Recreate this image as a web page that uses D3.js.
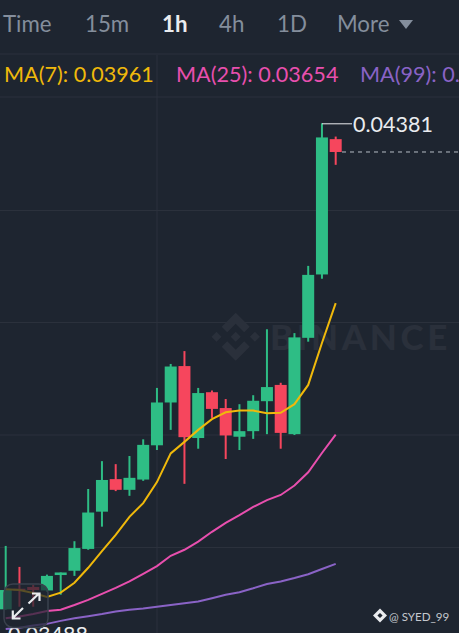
<!DOCTYPE html>
<html><head><meta charset="utf-8">
<script src="https://cdnjs.cloudflare.com/ajax/libs/d3/7.8.5/d3.min.js"></script>
<style>html,body{margin:0;padding:0;background:#1e2530;overflow:hidden}svg{display:block}text{font-family:Lato,sans-serif}</style>
</head><body><svg id="c" width="459" height="633"></svg>
<script>
const tabs = ["Time","15m","1h","4h","1D","More"];
const opens  = [.03246,.03294,.03298,.03290,.03326,.03336,.03387,.03474,.03550,.03525,.03549,.03629,.03729,.03814,.03646,.03753,.03716,.03649,.03662,.03732,.03770,.03655,.03880,.04028,.04344];
const closes = [.03291,.03290,.03291,.03324,.03332,.03389,.03472,.03548,.03525,.03553,.03630,.03729,.03813,.03648,.03751,.03714,.03652,.03662,.03733,.03765,.03658,.03881,.04027,.04348,.04314];
const highs  = [.03394,.03345,.03303,.03327,.03332,.03405,.03527,.03592,.03585,.03604,.03643,.03763,.03819,.03849,.03763,.03757,.03737,.03725,.03746,.03900,.03775,.03891,.04048,.04381,.04350];
const lows   = [.03245,.03252,.03252,.03287,.03280,.03324,.03385,.03439,.03522,.03511,.03546,.03618,.03665,.03539,.03621,.03693,.03597,.03618,.03644,.03655,.03621,.03653,.03871,.04018,.04284];
const ma7  = [.03293,.03291,.03284,.03275,.03285,.03308,.03343,.03382,.03420,.03462,.03494,.03543,.03610,.03637,.03665,.03690,.03706,.03710,.03710,.03704,.03705,.03725,.03770,.03868,.03961];
const ma25 = [.03225,.03229,.03235,.03242,.03245,.03256,.03268,.03282,.03296,.03311,.03329,.03347,.03371,.03385,.03404,.03427,.03448,.03466,.03485,.03501,.03513,.03535,.03566,.03611,.03654];
const ma99 = [.03200,.03203,.03208,.03212,.03219,.03225,.03230,.03235,.03241,.03245,.03248,.03252,.03256,.03260,.03264,.03272,.03280,.03286,.03295,.03305,.03311,.03319,.03328,.03340,.03352];
const lastPrice = .04314, highPrice = .04381;
const maLabels = ["MA(7): 0.03961","MA(25): 0.03654","MA(99): 0.03352"];

const GREEN="#2ebd85", RED="#f6465d", GRID="#2b313c";
const svg = d3.select("#c");
const y = d3.scaleLinear().domain([.04381,.03221]).range([123.3,620]);
const x = d3.scaleLinear().domain([0,24]).range([5.7,335.7]);
const idx = d3.range(opens.length);

// header
const tabX=[3,85,162,219,277,337];
svg.selectAll(".tab").data(tabs).join("text").attr("class","tab")
  .attr("x",(d,i)=>tabX[i]).attr("y",32).attr("font-size",22.3)
  .attr("font-weight",(d,i)=>i==2?700:400)
  .attr("fill",(d,i)=>i==2?"#eaecef":"#848e9c").text(d=>d);
svg.append("path").attr("d",d3.line()([[399,20],[413,20],[406,29]])+"Z").attr("fill","#848e9c");

// grid
svg.append("line").attr("x1",0).attr("x2",459).attr("y1",54).attr("y2",54).attr("stroke",GRID);
svg.append("line").attr("x1",0).attr("x2",459).attr("y1",97).attr("y2",97).attr("stroke",GRID);
svg.append("line").attr("x1",157).attr("x2",157).attr("y1",55).attr("y2",633).attr("stroke",GRID);
svg.selectAll(".g").data([210.5,322.5,435,547.5]).join("line")
  .attr("x1",0).attr("x2",459).attr("y1",d=>d).attr("y2",d=>d).attr("stroke",GRID);

// MA legend
const maColors=["#f0b90b","#e84fae","#8a63c6"], maX=[4,176,360];
svg.selectAll(".ma").data(maLabels).join("text").attr("class","ma")
  .attr("x",(d,i)=>maX[i]).attr("y",82).attr("font-size",21.6)
  .attr("fill",(d,i)=>maColors[i]).text(d=>d);

// watermark
const wm=svg.append("g").attr("fill","#2a303b");
const dia=(cx,cy,r)=>`M${cx-r},${cy}L${cx},${cy-r}L${cx+r},${cy}L${cx},${cy+r}Z`;
wm.append("path").attr("d",dia(235.7,336.7,5)+dia(216.5,336.7,5)+dia(254.9,336.7,5));
const chev=(s)=>`M235.7,${336.7+s*24}L${235.7-14},${336.7+s*10}L${235.7-8.5},${336.7+s*4.5}L235.7,${336.7+s*13}L${235.7+8.5},${336.7+s*4.5}L${235.7+14},${336.7+s*10}Z`;
wm.append("path").attr("d",chev(1)+chev(-1));
wm.append("text").attr("x",270).attr("y",350).attr("font-size",35).attr("font-weight",900).attr("letter-spacing",3.6).text("BINANCE");

// candles
const c=svg.selectAll(".c").data(idx).join("g").attr("class","c");
const col=i=>closes[i]>=opens[i]?GREEN:RED;
c.append("line").attr("x1",i=>x(i)).attr("x2",i=>x(i))
  .attr("y1",i=>y(highs[i])).attr("y2",i=>y(lows[i]))
  .attr("stroke",col).attr("stroke-width",2);
c.append("rect").attr("x",i=>x(i)-6).attr("width",12)
  .attr("y",i=>y(Math.max(opens[i],closes[i])))
  .attr("height",i=>Math.max(1.5,Math.abs(y(opens[i])-y(closes[i]))))
  .attr("fill",col);

// MA lines
const ln=d3.line().x((d,i)=>x(i)).y(d=>y(d));
[[ma99,"#8a63c6"],[ma25,"#e84fae"],[ma7,"#f0b90b"]].forEach(([s,k])=>{
  svg.append("path").attr("d",ln(s)).attr("fill","none").attr("stroke",k).attr("stroke-width",2);
});

// price annotations
svg.append("line").attr("x1",342).attr("x2",459).attr("y1",y(lastPrice)).attr("y2",y(lastPrice))
  .attr("stroke","#b7bdc6").attr("stroke-dasharray","4 4");
svg.append("line").attr("x1",x(23)).attr("x2",352).attr("y1",y(highPrice)+.5).attr("y2",y(highPrice)+.5)
  .attr("stroke","#eaecef").attr("stroke-width",1);
svg.append("text").attr("x",353).attr("y",131.5).attr("font-size",21.5).attr("fill","#eaecef").text(d3.format(".5f")(highPrice));
svg.append("text").attr("x",8).attr("y",642).attr("font-size",21.5).attr("fill","#eaecef").text("0.03488");

// expand button
svg.append("rect").attr("x",4).attr("y",584).attr("width",44).attr("height",43.5).attr("rx",9)
  .attr("fill","#1e2530").attr("fill-opacity",.72).attr("stroke","#3a414d").attr("stroke-width",1.5);
const arrows=svg.append("g").attr("stroke","#eaecef").attr("stroke-width",2.2).attr("fill","none");
arrows.append("path").attr("d","M28.5,603.5L39,593.5M32,593.5H39.5V601");
arrows.append("path").attr("d","M23,608L12.8,618M12.8,610.5V618.5H20.5");

// signature
const sig=svg.append("g");
sig.append("path").attr("d",dia(380,615.5,7)).attr("fill","#eaecef");
sig.append("path").attr("d",dia(380,615.5,2.6)).attr("fill","#1e2530");
sig.append("text").attr("x",389).attr("y",621).attr("font-size",11.6).attr("fill","#c4c8ce").text("@ SYED_99");
</script></body></html>
